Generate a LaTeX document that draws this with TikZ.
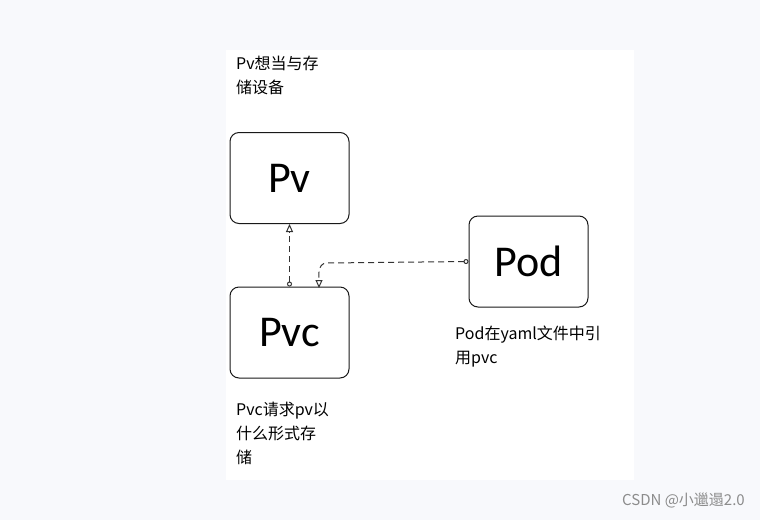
\documentclass[tikz,border=0pt]{standalone}
\usepackage{fontspec}
\newfontfamily\cjk{Noto Sans CJK SC}
\newfontfamily\carlitofont{Carlito}
\usetikzlibrary{arrows.meta}
\definecolor{bgc}{HTML}{F8F9FC}
\begin{document}
\begin{tikzpicture}[x=1pt,y=-1pt,
  box/.style={draw=black!90,line width=1pt,rounded corners=9pt,minimum width=119pt,minimum height=91pt,font=\carlitofont\fontsize{44}{44}\selectfont,inner sep=0pt},
  lab/.style={align=left,anchor=north west,font=\cjk\fontsize{16}{24}\selectfont,inner sep=0pt},
  con/.style={dashed,dash pattern=on 6pt off 4pt,line width=1pt,black!80,{Circle[open,length=5pt]}-{Triangle[open,length=8pt,width=7pt]}}]
\useasboundingbox (0,0) rectangle (760,520);
\fill[bgc] (0,0) rectangle (760,520);
\fill[white] (226,50) rectangle (634,480);
\node[box] (pv) at (289.5,178) {Pv};
\node[box] (pvc) at (289.5,332.5) {Pvc};
\node[box] (pod) at (528.5,261.5) {Pod};
\draw[con] (pvc.north -| pv.south) -- (pv.south);
\coordinate (t) at (319,288);
\draw[con] (pod.west) -- (327,263) to[out=180,in=90] (t);
\node[lab] (l1) at (236,56) {Pv想当与存\\储设备};
\node[lab] (l2) at (455,326) {Pod在yaml文件中引\\用pvc};
\node[lab] (l3) at (236,402) {Pvc请求pv以\\什么形式存\\储};
\node[anchor=east,inner sep=0pt,text=black!45,font=\cjk\fontsize{15}{15}\selectfont] (wm) at (745,500) {CSDN @小邋遢2.0};
\end{tikzpicture}
\end{document}
